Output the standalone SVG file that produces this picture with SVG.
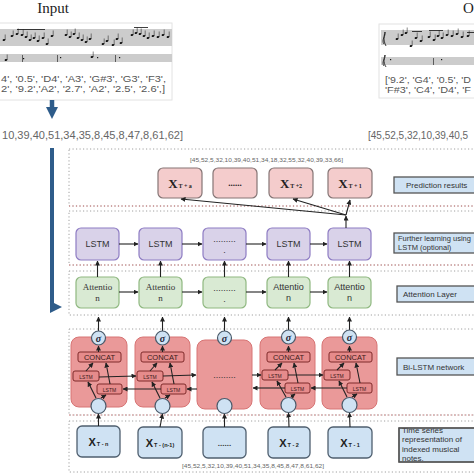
<svg xmlns="http://www.w3.org/2000/svg" xmlns:xlink="http://www.w3.org/1999/xlink" width="474" height="474" viewBox="0 0 474 474">
<style>
.sans{font-family:"Liberation Sans",Arial,sans-serif}
.serif{font-family:"Liberation Serif","Times New Roman",serif}
.dotg{fill:none;stroke:#a0a0a0;stroke-width:1;stroke-dasharray:1.2 2.3}
.dotr{fill:none;stroke:#d07a7a;stroke-width:1;stroke-dasharray:1.2 2.3}
.pred{fill:#f4cccc;stroke:#857575;stroke-width:1.2}
.lstm{fill:#d9d2e9;stroke:#8e7cc3;stroke-width:1.2}
.att{fill:#d9ead3;stroke:#8fb880;stroke-width:1.2}
.bil{fill:#ea9999;stroke:#d77474;stroke-width:1}
.inner{fill:#e68b8b;stroke:#7f2a2a;stroke-width:1}
.circ{fill:#cfe2f3;stroke:#4a5a6a;stroke-width:1.2}
.inp{fill:#cfe2f3;stroke:#4f5f6f;stroke-width:1.3}
.lab{fill:#cfe2f3;stroke:#555;stroke-width:1.3}
.conn line,.conn path{stroke:#222;stroke-width:1.1;fill:none;marker-end:url(#ah)}
.t9{font-size:9px;fill:#333}
.tl{font-size:8px;fill:#333}
.num{fill:#666}
.band{fill:#cccccc}
</style>
<defs>
<marker id="ah" viewBox="0 0 10 10" refX="9" refY="5" markerWidth="5" markerHeight="5" markerUnits="userSpaceOnUse" orient="auto">
<path d="M0,0 L10,5 L0,10 z" fill="#222"/>
</marker>
<marker id="bh" viewBox="0 0 10 10" refX="5" refY="5" markerWidth="12" markerHeight="12" markerUnits="userSpaceOnUse" orient="auto">
<path d="M0,0 L10,5 L0,10 z" fill="#2e5c8a"/>
</marker>
<g id="nt"><ellipse cx="0" cy="0" rx="1.4" ry="1" transform="rotate(-20)" fill="#111"/><line x1="1.2" y1="0" x2="1.2" y2="-5.5" stroke="#111" stroke-width="0.5"/></g>
<clipPath id="clipTS"><rect x="399" y="428" width="80" height="34"/></clipPath>
</defs>

<!-- Titles -->
<text class="serif" x="53" y="13" font-size="15" text-anchor="middle" fill="#222">Input</text>
<text class="serif" x="463" y="13" font-size="15" fill="#222">O</text>

<!-- Left score -->
<g id="score-left">
<rect x="-1" y="23" width="173" height="77" fill="#fff" stroke="#e2e2e2"/>
<rect class="band" x="0" y="29" width="172" height="17"/>
<rect class="band" x="0" y="54" width="172" height="8"/>
<g fill="#111">
<use xlink:href="#nt" x="4" y="40"/><use xlink:href="#nt" x="12" y="36"/><use xlink:href="#nt" x="17" y="34"/>
<use xlink:href="#nt" x="22" y="35"/><use xlink:href="#nt" x="26" y="37"/><use xlink:href="#nt" x="30" y="40"/>
<use xlink:href="#nt" x="34" y="38"/><use xlink:href="#nt" x="38" y="41"/><use xlink:href="#nt" x="43" y="38"/>
<use xlink:href="#nt" x="47" y="44"/><use xlink:href="#nt" x="52" y="36"/><use xlink:href="#nt" x="66" y="35"/>
<use xlink:href="#nt" x="70" y="37"/><use xlink:href="#nt" x="74" y="34"/><use xlink:href="#nt" x="78" y="38"/>
<use xlink:href="#nt" x="82" y="40"/><use xlink:href="#nt" x="86" y="42"/><use xlink:href="#nt" x="90" y="39"/>
<use xlink:href="#nt" x="103" y="44"/><use xlink:href="#nt" x="107" y="41"/><use xlink:href="#nt" x="113" y="45"/>
<use xlink:href="#nt" x="117" y="39"/><use xlink:href="#nt" x="121" y="43"/><use xlink:href="#nt" x="132" y="35"/>
<use xlink:href="#nt" x="136" y="33"/><use xlink:href="#nt" x="140" y="34"/><use xlink:href="#nt" x="144" y="36"/>
<use xlink:href="#nt" x="148" y="38"/><use xlink:href="#nt" x="153" y="36"/><use xlink:href="#nt" x="158" y="37"/>
<use xlink:href="#nt" x="163" y="35"/><use xlink:href="#nt" x="168" y="37"/>
<rect x="17" y="29" width="28" height="0.8" fill="#111"/><rect x="134" y="27" width="14" height="0.8" fill="#111"/>
<use xlink:href="#nt" x="6" y="60"/><use xlink:href="#nt" x="92" y="57"/>
<rect x="22" y="55" width="0.6" height="7"/><rect x="57" y="55" width="0.6" height="7"/>
<rect x="115" y="55" width="0.6" height="7"/><rect x="23" y="58" width="1.2" height="1.2"/>
<rect x="60" y="57" width="1.2" height="1.2"/><rect x="97" y="57" width="1.2" height="1.2"/><rect x="119" y="57" width="1.2" height="1.2"/>
</g>
<text class="sans" x="1" y="82" font-size="9.5" fill="#555" textLength="165" lengthAdjust="spacingAndGlyphs">4', '0.5', 'D4', 'A3', 'G#3', 'G3', 'F3',</text>
<text class="sans" x="1" y="92" font-size="9.5" fill="#555" textLength="164" lengthAdjust="spacingAndGlyphs">2', '9.2','A2', '2.7', 'A2', '2.5', '2.6',]</text>
</g>

<!-- Right score -->
<g id="score-right">
<rect x="379" y="24" width="100" height="74" fill="#fff" stroke="#e2e2e2"/>
<rect class="band" x="381" y="30" width="93" height="15"/>
<rect class="band" x="381" y="57" width="93" height="8"/>
<g fill="#111">
<path d="M384,44 C381,40 386,36 385,32 C384,36 383,40 386,46" stroke="#111" stroke-width="0.8" fill="none"/>
<path d="M384,66 C381,62 386,58 385,55 C384,58 383,62 386,67" stroke="#111" stroke-width="0.8" fill="none"/>
<use xlink:href="#nt" x="397" y="39"/><use xlink:href="#nt" x="402" y="35"/><use xlink:href="#nt" x="406" y="33"/>
<use xlink:href="#nt" x="411" y="46"/><use xlink:href="#nt" x="416" y="38"/><use xlink:href="#nt" x="421" y="41"/>
<use xlink:href="#nt" x="429" y="37"/><use xlink:href="#nt" x="434" y="40"/><use xlink:href="#nt" x="438" y="36"/>
<use xlink:href="#nt" x="442" y="38"/><use xlink:href="#nt" x="447" y="35"/><use xlink:href="#nt" x="452" y="36"/>
<use xlink:href="#nt" x="457" y="34"/><use xlink:href="#nt" x="462" y="37"/><use xlink:href="#nt" x="468" y="36"/>
<rect x="412" y="31" width="10" height="0.8"/><rect x="429" y="30" width="14" height="0.8"/><rect x="467" y="32" width="7" height="0.8"/>
<rect x="433" y="58" width="0.6" height="7"/><rect x="390" y="59" width="1.2" height="1.2"/><rect x="441" y="59" width="1.2" height="1.2"/>
</g>
<text class="sans" x="385" y="83" font-size="9.5" fill="#555" textLength="86" lengthAdjust="spacingAndGlyphs">['9.2', 'G4', '0.5', 'D</text>
<text class="sans" x="385" y="93" font-size="9.5" fill="#555" textLength="86" lengthAdjust="spacingAndGlyphs">'F#3', 'C4', 'D4', 'F</text>
</g>

<!-- Index sequences -->
<text class="sans num" x="2" y="139" font-size="11" textLength="181" lengthAdjust="spacingAndGlyphs">10,39,40,51,34,35,8,45,8,47,8,61,62]</text>
<text class="sans num" x="368" y="139" font-size="10">[45,52,5,32,10,39,40,5</text>

<!-- Blue arrows -->
<g id="blue-arrows">
<line x1="52" y1="100" x2="52" y2="113" stroke="#2e5c8a" stroke-width="4.5" marker-end="url(#bh)"/>
<path d="M52,148 L52,307 L56,307" stroke="#2e5c8a" stroke-width="4" fill="none" marker-end="url(#bh)"/>
</g>

<!-- Layer frames -->
<g id="frames">
<rect class="dotg" x="69" y="149" width="420" height="57"/>
<line class="dotr" x1="69" y1="206" x2="474" y2="206"/>
<rect class="dotg" x="69" y="211" width="420" height="54"/>
<line class="dotr" x1="69" y1="265" x2="474" y2="265"/>
<rect class="dotg" x="69" y="271" width="420" height="44"/>
<rect class="dotg" x="69" y="329" width="420" height="86"/>
<line class="dotr" x1="69" y1="415" x2="474" y2="415"/>
<rect class="dotg" x="69" y="421" width="420" height="51"/>
</g>

<!-- Prediction layer -->
<text class="sans num" x="190" y="162" font-size="5.5" textLength="153" lengthAdjust="spacingAndGlyphs">[45,52,5,32,10,39,40,51,34,18,32,55,32,40,39,33,66]</text>
<g id="pred-a"><rect class="pred" x="158" y="168" width="44" height="30" rx="5"/><text class="serif" x="180" y="188" text-anchor="middle" font-weight="bold" fill="#222"><tspan font-size="13">X</tspan><tspan font-size="6" dx="1">T + a</tspan></text></g>
<g id="pred-dots"><rect class="pred" x="213" y="168" width="44" height="30" rx="5"/><text class="serif" x="235" y="186" text-anchor="middle" font-weight="bold" font-size="9" fill="#222">......</text></g>
<g id="pred-2"><rect class="pred" x="269" y="168" width="44" height="30" rx="5"/><text class="serif" x="291" y="188" text-anchor="middle" font-weight="bold" fill="#222"><tspan font-size="13">X</tspan><tspan font-size="6" dx="1">T +2</tspan></text></g>
<g id="pred-1"><rect class="pred" x="328" y="168" width="44" height="30" rx="5"/><text class="serif" x="350" y="188" text-anchor="middle" font-weight="bold" fill="#222"><tspan font-size="13">X</tspan><tspan font-size="6" dx="1">T + 1</tspan></text></g>

<!-- LSTM layer -->
<g id="lstm-1"><rect class="lstm" x="76" y="228" width="43" height="32" rx="5"/><text class="sans t9" x="97.5" y="247" text-anchor="middle">LSTM</text></g>
<g id="lstm-2"><rect class="lstm" x="139" y="228" width="43" height="32" rx="5"/><text class="sans t9" x="160.5" y="247" text-anchor="middle">LSTM</text></g>
<g id="lstm-3"><rect class="lstm" x="203" y="228" width="43" height="32" rx="5"/><text class="sans t9" x="224.5" y="242" text-anchor="middle">.........</text><text class="sans t9" x="224.5" y="253" text-anchor="middle">.</text></g>
<g id="lstm-4"><rect class="lstm" x="267" y="228" width="43" height="32" rx="5"/><text class="sans t9" x="288.5" y="247" text-anchor="middle">LSTM</text></g>
<g id="lstm-5"><rect class="lstm" x="328" y="228" width="43" height="32" rx="5"/><text class="sans t9" x="349.5" y="247" text-anchor="middle">LSTM</text></g>

<!-- Attention layer -->
<g id="att-1"><rect class="att" x="76" y="277" width="43" height="31" rx="5"/><text class="serif t9" x="97.5" y="290" text-anchor="middle">Attentio</text><text class="serif t9" x="97.5" y="301" text-anchor="middle">n</text></g>
<g id="att-2"><rect class="att" x="139" y="277" width="43" height="31" rx="5"/><text class="serif t9" x="160.5" y="290" text-anchor="middle">Attentio</text><text class="serif t9" x="160.5" y="301" text-anchor="middle">n</text></g>
<g id="att-3"><rect class="att" x="203" y="277" width="43" height="31" rx="5"/><text class="sans t9" x="224.5" y="291" text-anchor="middle">.........</text><text class="sans t9" x="224.5" y="302" text-anchor="middle">.</text></g>
<g id="att-4"><rect class="att" x="267" y="277" width="43" height="31" rx="5"/><text class="sans t9" x="288.5" y="290" text-anchor="middle">Attentio</text><text class="sans t9" x="288.5" y="301" text-anchor="middle">n</text></g>
<g id="att-5"><rect class="att" x="328" y="277" width="43" height="31" rx="5"/><text class="sans t9" x="349.5" y="290" text-anchor="middle">Attentio</text><text class="sans t9" x="349.5" y="301" text-anchor="middle">n</text></g>

<!-- Bi-LSTM layer -->
<g id="bi-1">
<rect class="bil" x="71" y="337" width="56" height="70" rx="8"/>
<rect class="inner" x="78" y="352" width="43" height="10" rx="2"/><text class="sans" x="99.5" y="360" font-size="7.5" text-anchor="middle" fill="#3a1a1a">CONCAT</text>
<rect class="inner" x="73" y="371" width="26" height="10" rx="2"/><text class="sans" x="86" y="378.5" font-size="5" text-anchor="middle" fill="#3a1a1a">LSTM</text>
<rect class="inner" x="97" y="384" width="25" height="10" rx="2"/><text class="sans" x="109.5" y="391.5" font-size="5" text-anchor="middle" fill="#3a1a1a">LSTM</text>
</g>
<g id="bi-2">
<rect class="bil" x="135" y="337" width="55" height="70" rx="8"/>
<rect class="inner" x="141" y="352" width="43" height="10" rx="2"/><text class="sans" x="162.5" y="360" font-size="7.5" text-anchor="middle" fill="#3a1a1a">CONCAT</text>
<rect class="inner" x="137" y="371" width="26" height="10" rx="2"/><text class="sans" x="150" y="378.5" font-size="5" text-anchor="middle" fill="#3a1a1a">LSTM</text>
<rect class="inner" x="161" y="384" width="25" height="10" rx="2"/><text class="sans" x="173.5" y="391.5" font-size="5" text-anchor="middle" fill="#3a1a1a">LSTM</text>
</g>
<g id="bi-3">
<rect class="bil" x="197" y="340" width="55" height="69" rx="8"/>
<text class="sans" x="224.5" y="378" font-size="9" text-anchor="middle" fill="#333">.........</text>
</g>
<g id="bi-4">
<rect class="bil" x="260" y="337" width="55" height="72" rx="8"/>
<rect class="inner" x="267" y="352" width="43" height="10" rx="2"/><text class="sans" x="288.5" y="360" font-size="7.5" text-anchor="middle" fill="#3a1a1a">CONCAT</text>
<rect class="inner" x="262" y="370" width="26" height="10" rx="2"/><text class="sans" x="275" y="377.5" font-size="5" text-anchor="middle" fill="#3a1a1a">LSTM</text>
<rect class="inner" x="285" y="383" width="25" height="10" rx="2"/><text class="sans" x="297.5" y="390.5" font-size="5" text-anchor="middle" fill="#3a1a1a">LSTM</text>
</g>
<g id="bi-5">
<rect class="bil" x="322" y="337" width="55" height="72" rx="8"/>
<rect class="inner" x="329" y="352" width="43" height="10" rx="2"/><text class="sans" x="350.5" y="360" font-size="7.5" text-anchor="middle" fill="#3a1a1a">CONCAT</text>
<rect class="inner" x="324" y="370" width="26" height="10" rx="2"/><text class="sans" x="337" y="377.5" font-size="5" text-anchor="middle" fill="#3a1a1a">LSTM</text>
<rect class="inner" x="347" y="383" width="25" height="10" rx="2"/><text class="sans" x="359.5" y="390.5" font-size="5" text-anchor="middle" fill="#3a1a1a">LSTM</text>
</g>

<!-- Input layer -->
<g id="in-1"><rect class="inp" x="77" y="426" width="43" height="31" rx="5"/><text class="sans" x="98.5" y="446" text-anchor="middle" font-weight="bold" fill="#222"><tspan font-size="11">X</tspan><tspan font-size="5.5" dx="1">T - n</tspan></text></g>
<g id="in-2"><rect class="inp" x="138" y="427" width="44" height="31" rx="5"/><text class="sans" x="160" y="447" text-anchor="middle" font-weight="bold" fill="#222"><tspan font-size="11">X</tspan><tspan font-size="5.5" dx="1">T - (n-1)</tspan></text></g>
<g id="in-3"><rect class="inp" x="203" y="427" width="43" height="31" rx="5"/><text class="sans" x="224.5" y="446" text-anchor="middle" font-weight="bold" font-size="8" fill="#333">......</text></g>
<g id="in-4"><rect class="inp" x="268" y="427" width="42" height="31" rx="5"/><text class="sans" x="289" y="447" text-anchor="middle" font-weight="bold" fill="#222"><tspan font-size="11">X</tspan><tspan font-size="5.5" dx="1">T - 2</tspan></text></g>
<g id="in-5"><rect class="inp" x="328" y="427" width="44" height="31" rx="5"/><text class="sans" x="350" y="447" text-anchor="middle" font-weight="bold" fill="#222"><tspan font-size="11">X</tspan><tspan font-size="5.5" dx="1">T - 1</tspan></text></g>
<text class="sans num" x="182" y="468" font-size="5.5" textLength="142" lengthAdjust="spacingAndGlyphs">[45,52,5,32,10,39,40,51,34,35,8,45,8,47,8,61,62]</text>

<!-- Connectors -->
<g id="connectors" class="conn">
<line x1="346" y1="228" x2="346" y2="216"/>
<line x1="346" y1="215" x2="181" y2="199"/>
<line x1="346" y1="215" x2="293" y2="199"/>
<line x1="346" y1="215" x2="350" y2="200"/>
<line x1="119" y1="244" x2="138" y2="244"/>
<line x1="182" y1="244" x2="202" y2="244"/>
<line x1="246" y1="244" x2="266" y2="244"/>
<line x1="310" y1="244" x2="327" y2="244"/>
<line x1="97.5" y1="277" x2="97.5" y2="261"/>
<line x1="160.5" y1="277" x2="160.5" y2="261"/>
<line x1="224.5" y1="277" x2="224.5" y2="261"/>
<line x1="288.5" y1="277" x2="288.5" y2="261"/>
<line x1="349.5" y1="277" x2="349.5" y2="261"/>
<line x1="119" y1="292" x2="138" y2="292"/>
<line x1="182" y1="292" x2="202" y2="292"/>
<line x1="246" y1="292" x2="266" y2="292"/>
<line x1="310" y1="292" x2="327" y2="292"/>
<line x1="98.5" y1="331" x2="98.5" y2="317"/>
<line x1="162.5" y1="331" x2="162.5" y2="317"/>
<line x1="224.5" y1="331" x2="224.5" y2="317"/>
<line x1="288.5" y1="331" x2="288.5" y2="317"/>
<line x1="349.5" y1="331" x2="349.5" y2="317"/>
<line x1="98.5" y1="352" x2="98.5" y2="346"/>
<line x1="162.5" y1="352" x2="162.5" y2="346"/>
<line x1="288.5" y1="352" x2="288.5" y2="346"/>
<line x1="349.5" y1="352" x2="349.5" y2="346"/>
<line x1="96" y1="398" x2="88" y2="382"/>
<line x1="101" y1="398" x2="106" y2="395"/>
<line x1="86" y1="371" x2="93" y2="363"/>
<line x1="110" y1="384" x2="106" y2="363"/>
<line x1="160" y1="398" x2="152" y2="382"/>
<line x1="165" y1="398" x2="170" y2="395"/>
<line x1="150" y1="371" x2="157" y2="363"/>
<line x1="174" y1="384" x2="170" y2="363"/>
<line x1="286" y1="397" x2="277" y2="381"/>
<line x1="291" y1="397" x2="295" y2="394"/>
<line x1="275" y1="370" x2="282" y2="363"/>
<line x1="298" y1="383" x2="294" y2="363"/>
<line x1="347" y1="397" x2="339" y2="381"/>
<line x1="352" y1="397" x2="357" y2="394"/>
<line x1="337" y1="370" x2="344" y2="363"/>
<line x1="360" y1="383" x2="356" y2="363"/>
<line x1="99" y1="377" x2="136" y2="376"/>
<line x1="163" y1="376" x2="196" y2="375"/>
<line x1="252" y1="375" x2="261" y2="375"/>
<line x1="288" y1="375" x2="323" y2="375"/>
<line x1="161" y1="389" x2="123" y2="389"/>
<line x1="197" y1="389" x2="187" y2="389"/>
<line x1="285" y1="388" x2="253" y2="388"/>
<line x1="347" y1="388" x2="311" y2="388"/>
<line x1="98.5" y1="426" x2="98.5" y2="414"/>
<line x1="160" y1="427" x2="162.5" y2="414"/>
<line x1="224.5" y1="427" x2="224.5" y2="414"/>
<line x1="289" y1="427" x2="288.5" y2="413"/>
<line x1="350" y1="427" x2="349.5" y2="413"/>
</g>

<!-- Circles -->
<g id="sigmas">
<g id="sig-1"><circle class="circ" cx="98.5" cy="338" r="7"/><text class="serif" x="98.5" y="341.5" font-size="10" font-weight="bold" font-style="italic" text-anchor="middle" fill="#223">σ</text></g>
<g id="sig-2"><circle class="circ" cx="162.5" cy="338" r="7"/><text class="serif" x="162.5" y="341.5" font-size="10" font-weight="bold" font-style="italic" text-anchor="middle" fill="#223">σ</text></g>
<g id="sig-3"><circle class="circ" cx="224.5" cy="338" r="7"/><text class="serif" x="224.5" y="341.5" font-size="10" font-weight="bold" font-style="italic" text-anchor="middle" fill="#223">σ</text></g>
<g id="sig-4"><circle class="circ" cx="288.5" cy="337" r="7"/><text class="serif" x="288.5" y="340.5" font-size="10" font-weight="bold" font-style="italic" text-anchor="middle" fill="#223">σ</text></g>
<g id="sig-5"><circle class="circ" cx="349.5" cy="337" r="7"/><text class="serif" x="349.5" y="340.5" font-size="10" font-weight="bold" font-style="italic" text-anchor="middle" fill="#223">σ</text></g>
</g>
<g id="inputs-circles">
<circle id="c-1" class="circ" cx="98.5" cy="406" r="7.5"/>
<circle id="c-2" class="circ" cx="162.5" cy="406" r="7.5"/>
<circle id="c-3" class="circ" cx="224.5" cy="406" r="7.5"/>
<circle id="c-4" class="circ" cx="288.5" cy="405" r="7.5"/>
<circle id="c-5" class="circ" cx="349.5" cy="405" r="7.5"/>
</g>

<!-- Right labels -->
<g id="label-pred"><rect class="lab" x="394" y="177" width="90" height="16"/><text class="sans tl" x="406" y="188">Prediction results</text></g>
<g id="label-lstm"><rect class="lab" x="394" y="233" width="90" height="20"/><text class="sans" x="398" y="241" font-size="7.5" fill="#333">Further learning using</text><text class="sans" x="398" y="250" font-size="7.5" fill="#333">LSTM (optional)</text></g>
<g id="label-att"><rect class="lab" x="397" y="286" width="90" height="16"/><text class="sans tl" x="403" y="297">Attention Layer</text></g>
<g id="label-bi"><rect class="lab" x="397" y="358" width="90" height="17"/><text class="sans tl" x="403" y="369.5">Bi-LSTM network</text></g>
<g id="label-ts"><rect class="lab" x="399" y="428" width="90" height="34"/>
<g clip-path="url(#clipTS)"><text class="sans tl" x="402" y="432.5">Time series</text><text class="sans tl" x="402" y="442">representation of</text><text class="sans tl" x="402" y="451.5">indexed musical</text><text class="sans tl" x="402" y="461">notes.</text></g>
<rect x="399" y="428" width="90" height="34" fill="none" stroke="#555" stroke-width="1.3"/></g>
</svg>
